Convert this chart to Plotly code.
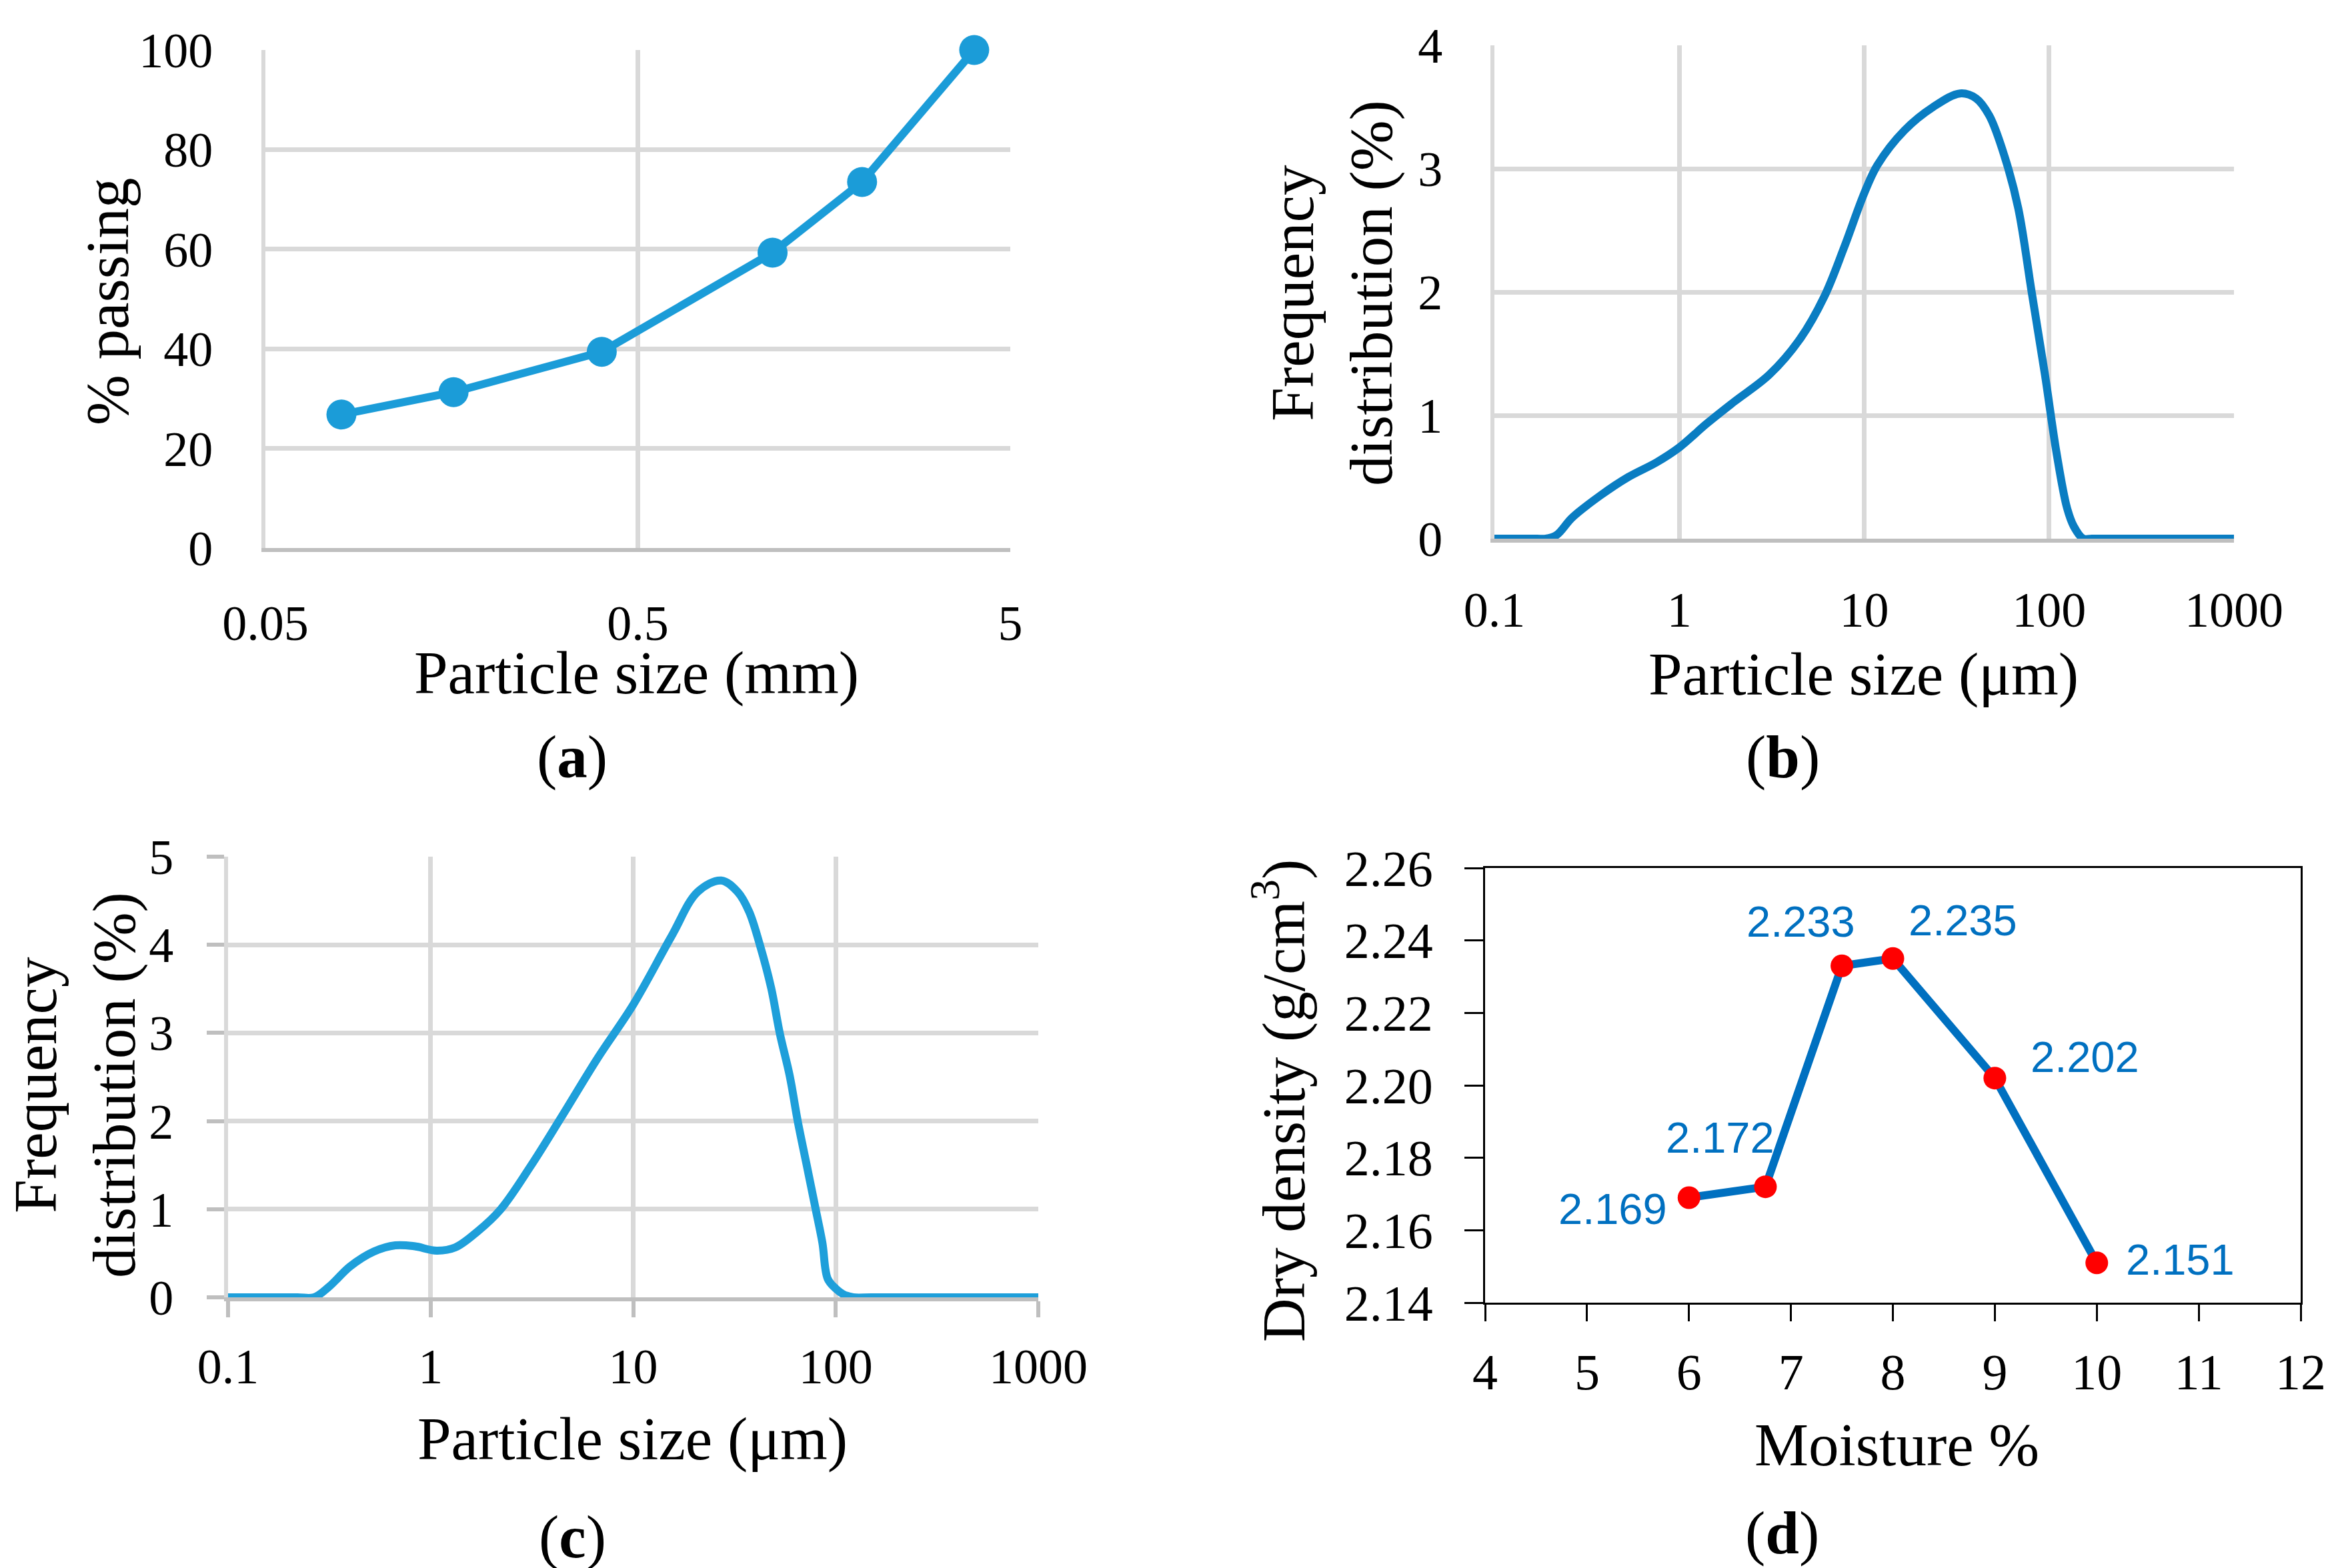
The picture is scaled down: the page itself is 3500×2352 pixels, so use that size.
import plotly.graph_objects as go

# (a) sieve analysis
sieve_mm = [0.08, 0.16, 0.4, 1.15, 2.0, 4.0]
passing_pct = [26.8, 31.3, 39.4, 59.3, 73.5, 100.0]

# (b) particle size distribution
size_b = [0.1, 0.14, 0.17, 0.19, 0.217, 0.263, 0.374, 0.53, 0.755, 1.0, 1.4, 1.98, 3.07,
          4.5, 6.07, 7.78, 10.0, 11.8, 16.5, 23.6, 33.0, 40.3, 47.5, 57.7, 68.1, 80.5,
          95.0, 109.6, 125.0, 136.0, 153.0, 170.0, 250.0, 500.0, 1000.0]
freq_b = [0, 0, 0, 0, 0.03, 0.17, 0.35, 0.50, 0.62, 0.74, 0.93, 1.11, 1.33,
          1.62, 1.96, 2.36, 2.80, 3.03, 3.31, 3.50, 3.61, 3.57, 3.43, 3.09, 2.68, 2.0,
          1.33, 0.70, 0.25, 0.10, 0, 0, 0, 0, 0]

# (c) particle size distribution
size_c = [0.1, 0.15, 0.22, 0.266, 0.315, 0.40, 0.525, 0.67, 0.83, 1.07, 1.32, 1.71, 2.22,
          3.12, 4.38, 6.7, 10.0, 15.4, 20.8, 27.2, 32.8, 37.3, 42.2, 48.0, 52.9, 59.3,
          64.9, 71.6, 79.6, 85.9, 91.3, 100.0, 110.0, 122.0, 150.0, 250.0, 500.0, 1000.0]
freq_c = [0, 0, 0, 0, 0.12, 0.35, 0.52, 0.59, 0.58, 0.53, 0.565, 0.75, 1.0,
          1.49, 2.03, 2.72, 3.32, 4.09, 4.60, 4.73, 4.60, 4.38, 4.0, 3.51, 3.0, 2.51,
          2.0, 1.52, 1.0, 0.62, 0.21, 0.10, 0.03, 0, 0, 0, 0, 0]

# (d) compaction
moisture = [6, 6.75, 7.5, 8, 9, 10]
dry_density = [2.169, 2.172, 2.233, 2.235, 2.202, 2.151]
label_shift = [(-114, -17), (-68, 74), (-62, 66), (105, 57), (135, 32), (125, 5)]

SERIF = "Liberation Serif"
GRID = "#D9D9D9"
W, H, OFF = 3500, 2352, 8  # page body margin pushes the figure by ~8px


def px_x(v):
    return (v - OFF) / W


def px_y(v):
    return 1 - (v - OFF) / H


fig = go.Figure()
fig.add_trace(go.Scatter(x=sieve_mm, y=passing_pct, mode="lines+markers",
                         line=dict(color="#1B9CD8", width=12),
                         marker=dict(size=45, color="#1B9CD8"), cliponaxis=False,
                         xaxis="x", yaxis="y"))
fig.add_trace(go.Scatter(x=size_b, y=freq_b, mode="lines", line_shape="spline",
                         line=dict(color="#0A7DC2", width=12),
                         xaxis="x2", yaxis="y2"))
fig.add_trace(go.Scatter(x=size_c, y=freq_c, mode="lines", line_shape="spline",
                         line=dict(color="#1E9FDA", width=12),
                         xaxis="x3", yaxis="y3"))
fig.add_trace(go.Scatter(x=moisture, y=dry_density, mode="lines+markers",
                         line=dict(color="#0070C0", width=12),
                         marker=dict(size=34, color="#FF0000"),
                         xaxis="x4", yaxis="y4"))

tick_font = dict(family=SERIF, size=74, color="black")
log_ticks = dict(tickvals=[0.1, 1, 10, 100, 1000], ticktext=["0.1", "1", "10", "100", "1000"])

common_grid = dict(showgrid=True, gridcolor=GRID, gridwidth=7, zeroline=False,
                   tickfont=tick_font, ticks="", showline=True, linewidth=6,
                   automargin=False)

fig.update_layout(
    width=W, height=H, showlegend=False,
    paper_bgcolor="white", plot_bgcolor="white",
    margin=dict(l=0, r=0, t=0, b=0, autoexpand=False),
    xaxis=dict(domain=[px_x(398), px_x(1515)], type="log", range=[-1.30103, 0.69897],
               tickvals=[0.05, 0.5, 5], ticktext=["0.05", "0.5", "5"],
               linecolor="#BFBFBF", ticklabelstandoff=43, anchor="y", **common_grid),
    yaxis=dict(domain=[px_y(822), px_y(75)], range=[0, 100], dtick=20,
               linecolor=GRID, ticklabelstandoff=58, anchor="x", **common_grid),
    xaxis2=dict(domain=[px_x(2241), px_x(3350)], type="log", range=[-1, 3], **log_ticks,
                linecolor="#BFBFBF", ticklabelstandoff=37, anchor="y2", **common_grid),
    yaxis2=dict(domain=[px_y(808), px_y(68)], range=[0, 4], dtick=1,
                linecolor=GRID, ticklabelstandoff=57, anchor="x2", **common_grid),
    xaxis3=dict(domain=[px_x(342), px_x(1557)], type="log", range=[-1, 3], **log_ticks,
                showgrid=True, gridcolor=GRID, gridwidth=7, zeroline=False,
                tickfont=tick_font, ticks="outside", ticklen=24, tickwidth=6,
                tickcolor="#BFBFBF", showline=True, linewidth=6, linecolor="#BFBFBF",
                ticklabelstandoff=10, automargin=False, anchor="y3"),
    yaxis3=dict(domain=[px_y(1946), px_y(1285)], range=[0, 5], dtick=1,
                showgrid=True, gridcolor=GRID, gridwidth=7, zeroline=False,
                tickfont=tick_font, ticks="outside", ticklen=26, tickwidth=6,
                tickcolor="#BFBFBF", showline=True, linewidth=6, linecolor=GRID,
                ticklabelstandoff=35, automargin=False, anchor="x3"),
    xaxis4=dict(domain=[px_x(2227), px_x(3450)], range=[4, 12], dtick=1,
                showgrid=False, zeroline=False, showline=True, mirror=True,
                linecolor="black", linewidth=3, ticks="outside", ticklen=25,
                tickwidth=3, tickcolor="black",
                tickfont=dict(family=SERIF, size=76, color="black"),
                ticklabelstandoff=11, automargin=False, anchor="y4"),
    yaxis4=dict(domain=[px_y(1954), px_y(1302)], range=[2.14, 2.26], dtick=0.02,
                tickformat=".2f", showgrid=False, zeroline=False, showline=True,
                mirror=True, linecolor="black", linewidth=3, ticks="outside",
                ticklen=28, tickwidth=3, tickcolor="black",
                tickfont=dict(family=SERIF, size=76, color="black"),
                ticklabelstandoff=32, automargin=False, anchor="x4"),
)

title_font = dict(family=SERIF, size=91, color="black")
anns = [
    (954, 1010, "Particle size (mm)", 0),
    (162, 452, "% passing", -90),
    (2794, 1012, "Particle size (μm)", 0),
    (1998, 440, "Frequency<br>distribution (%)", -90),
    (948, 2158, "Particle size (μm)", 0),
    (112, 1628, "Frequency<br>distribution (%)", -90),
    (2844, 2167, "Moisture %", 0),
    (1918, 1651, "Dry density (g/cm<sup>3</sup>)", -90),
    (858, 1135, "(<b>a</b>)", 0),
    (2673, 1135, "(<b>b</b>)", 0),
    (858, 2305, "(<b>c</b>)", 0),
    (2672, 2299, "(<b>d</b>)", 0),
]
for px, py, txt, ang in anns:
    fig.add_annotation(x=px_x(px), y=px_y(py), xref="paper", yref="paper",
                       text=txt, showarrow=False, textangle=ang, font=title_font,
                       xanchor="center", yanchor="middle")

for mx, dd, (dx, dy) in zip(moisture, dry_density, label_shift):
    fig.add_annotation(x=mx, y=dd, xref="x4", yref="y4", text=f"{dd:.3f}",
                       showarrow=False, xshift=dx, yshift=dy,
                       font=dict(family="Liberation Sans", size=65, color="#0070C0"))

fig.write_html("out.html")
